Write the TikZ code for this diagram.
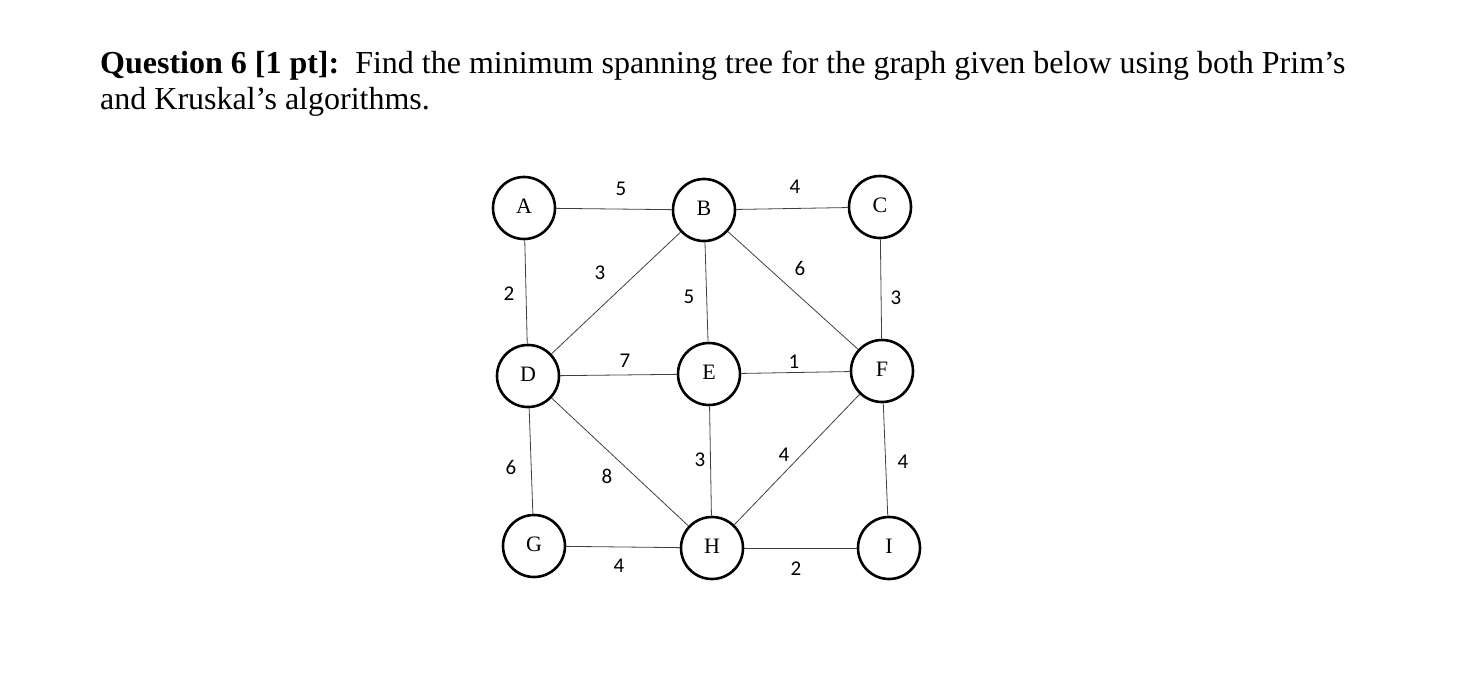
\documentclass[tikz,border=0pt]{standalone}
\usepackage{fontspec}
\setmainfont{Liberation Serif}
\newfontfamily\lab{Carlito}
\begin{document}
\begin{tikzpicture}[x=1pt,y=-1pt,
  vtx/.style={circle,draw,line width=2.6pt,minimum size=62pt,inner sep=0pt,text height=10pt,text depth=0pt,font=\fontsize{22}{24}\selectfont},
  edge/.style={line width=0.8pt,draw=black!75},
  wl/.style={font=\lab\fontsize{21}{24}\selectfont}]
\useasboundingbox (0,0) rectangle (1478,674);
\node[anchor=base west,inner sep=0pt,font=\fontsize{32}{36}\selectfont] (t1) at (100,74) {\textbf{Question 6 [1 pt]:}\ \ Find the minimum spanning tree for the graph given below using both Prim’s};
\node[anchor=base west,inner sep=0pt,font=\fontsize{32}{36}\selectfont] (t2) at (100,110) {and Kruskal’s algorithms.};
\node[vtx] (A) at (524,208) {A};
\node[vtx] (B) at (704,210) {B};
\node[vtx] (C) at (880,207) {C};
\node[vtx] (D) at (528,376) {D};
\node[vtx] (E) at (709,374) {E};
\node[vtx] (F) at (882,371) {F};
\node[vtx] (G) at (534,546) {G};
\node[vtx] (H) at (712,548) {H};
\node[vtx] (I) at (889,548) {I};
\draw[edge] (A)--(B); \draw[edge] (B)--(C);
\draw[edge] (A)--(D); \draw[edge] (D)--(B); \draw[edge] (B)--(E); \draw[edge] (B)--(F); \draw[edge] (C)--(F);
\draw[edge] (D)--(E); \draw[edge] (E)--(F);
\draw[edge] (D)--(G); \draw[edge] (D)--(H); \draw[edge] (E)--(H); \draw[edge] (H)--(F); \draw[edge] (F)--(I);
\draw[edge] (G)--(H); \draw[edge] (H)--(I);
\node[wl] (w1) at (621,189) {5};
\node[wl] (w2) at (795,187) {4};
\node[wl] (w3) at (600,273) {3};
\node[wl] (w4) at (800,268) {6};
\node[wl] (w5) at (509,294) {2};
\node[wl] (w6) at (689,297) {5};
\node[wl] (w7) at (896,298) {3};
\node[wl] (w8) at (625,361) {7};
\node[wl] (w9) at (794,362) {1};
\node[wl] (w10) at (511,467) {6};
\node[wl] (w11) at (607,476) {8};
\node[wl] (w12) at (700,460) {3};
\node[wl] (w13) at (784,455) {4};
\node[wl] (w14) at (903,462) {4};
\node[wl] (w15) at (619,566) {4};
\node[wl] (w16) at (796,569) {2};
\end{tikzpicture}
\end{document}
